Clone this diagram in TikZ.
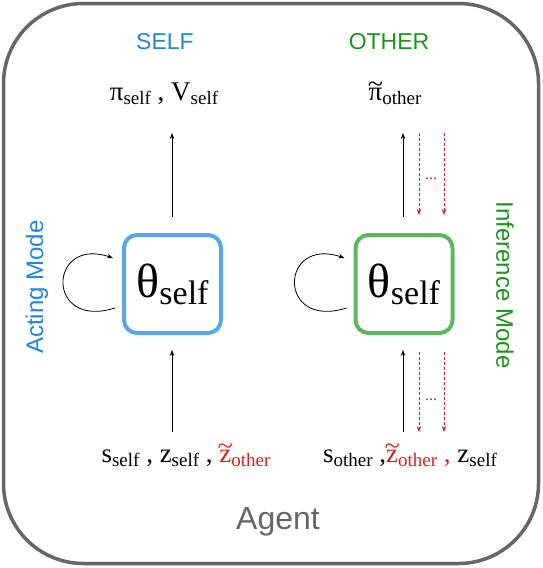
\documentclass[tikz,border=0pt]{standalone}
\usepackage{fontspec}
\setmainfont{Liberation Serif}
\newfontfamily\hsans{Liberation Sans}
\usetikzlibrary{arrows.meta}
\definecolor{selfblue}{HTML}{1C87E6}
\definecolor{boxblue}{HTML}{5AA6EE}
\definecolor{othgreen}{HTML}{1A961A}
\definecolor{boxgreen}{HTML}{5CB85C}
\definecolor{agentgray}{HTML}{666666}
\definecolor{zred}{HTML}{E31B1B}
\newcommand\lsub[1]{{\raisebox{-4.5pt}{\fontsize{19}{20}\selectfont #1}}}
\newcommand\bsub[1]{{\raisebox{-7pt}{\fontsize{34}{36}\selectfont #1}}}
\newcommand\wtilde[1]{{\ooalign{#1\cr\hidewidth\raisebox{0.27em}{\scalebox{1.05}[0.95]{\char"7E}}\hidewidth\cr}}}
\tikzset{
  lbl/.style={inner sep=0pt, font=\fontsize{27}{30}\selectfont},
  sanslbl/.style={inner sep=0pt, font=\hsans\fontsize{23}{26}\selectfont},
  thetabox/.style={draw, line width=4pt, rounded corners=13pt, minimum width=97pt, minimum height=98pt, inner sep=0pt, font=\fontsize{48}{50}\selectfont},
  arr/.style={-{Stealth[length=6pt,width=4.5pt]}, line width=0.8pt, black},
  redarr/.style={-{Stealth[length=6pt,width=4.5pt]}, line width=0.8pt, zred, dash pattern=on 3pt off 2pt},
  dots/.style={inner sep=0pt, text=zred, font=\fontsize{16}{16}\selectfont}
}
\begin{document}
\begin{tikzpicture}[x=1pt,y=-1pt]
\useasboundingbox (0,0) rectangle (542,568);
\draw[agentgray, line width=3.5pt, rounded corners=80pt] (3.5,3.5) rectangle (538.5,563.5);

\node[sanslbl, text=selfblue] (selft) at (165,42) {SELF};
\node[sanslbl, text=othgreen] (othert) at (389,42) {OTHER};

\node[lbl, anchor=base] (piself) at (164,100) {π\lsub{self} , V\lsub{self}};
\node[lbl, anchor=base] (piother) at (395,100) {\wtilde{π}\lsub{other}};

\node[thetabox, draw=boxblue] (lbox) at (172.5,284) {θ\bsub{self}};
\node[thetabox, draw=boxgreen] (rbox) at (404,284) {θ\bsub{self}};

\node[sanslbl, text=selfblue, rotate=90, font=\hsans\fontsize{24}{26}\selectfont] (acting) at (37,287) {Acting Mode};
\node[sanslbl, text=othgreen, rotate=-90, font=\hsans\fontsize{24}{26}\selectfont] (infer) at (505,285) {Inference Mode};

\node[lbl, anchor=base] (inl) at (186,462) {s\lsub{self} , z\lsub{self} , \textcolor{zred}{\wtilde{z}\lsub{other}}};
\node[lbl, anchor=base] (inr) at (410,462) {s\lsub{other} ,\textcolor{zred}{\wtilde{z}\lsub{other} ,} z\lsub{self}};

\node[font=\hsans\fontsize{32}{34}\selectfont, text=agentgray, inner sep=0pt] (agent) at (278,522) {Agent};

% coordinates
\coordinate (lt1) at (172,217); \coordinate (lt2) at (172,133);
\coordinate (lb1) at (172,432); \coordinate (lb2) at (172,350);
\coordinate (rt1) at (403,217); \coordinate (rt2) at (403,133);
\coordinate (rb1) at (403,432); \coordinate (rb2) at (403,350);
\coordinate (ra1) at (419,133); \coordinate (ra2) at (419,215);
\coordinate (rc1) at (444,133); \coordinate (rc2) at (444,215);
\coordinate (rd1) at (419,352); \coordinate (rd2) at (419,432);
\coordinate (re1) at (444,352); \coordinate (re2) at (444,432);

\draw[arr] (lt1) -- (lt2);
\draw[arr] (lb1) -- (lb2);
\draw[arr] (rt1) -- (rt2);
\draw[arr] (rb1) -- (rb2);
\draw[redarr] (ra1) -- (ra2);
\draw[redarr] (rc1) -- (rc2);
\draw[redarr] (rd1) -- (rd2);
\draw[redarr] (re1) -- (re2);
\node[dots] (dtop) at (431,179) {...};
\node[dots] (dbot) at (431,400) {...};

% self loops
\coordinate (ls) at ([xshift=-7pt,yshift=-24pt]lbox.west);
\coordinate (le) at ([xshift=-9pt,yshift=26pt]lbox.west);
\draw[arr] (ls) .. controls +(-70,22) and +(-65,-22) .. (le);
\coordinate (rs) at ([xshift=-7pt,yshift=-24pt]rbox.west);
\coordinate (re) at ([xshift=-9pt,yshift=26pt]rbox.west);
\draw[arr] (rs) .. controls +(-70,22) and +(-65,-22) .. (re);
\end{tikzpicture}
\end{document}
